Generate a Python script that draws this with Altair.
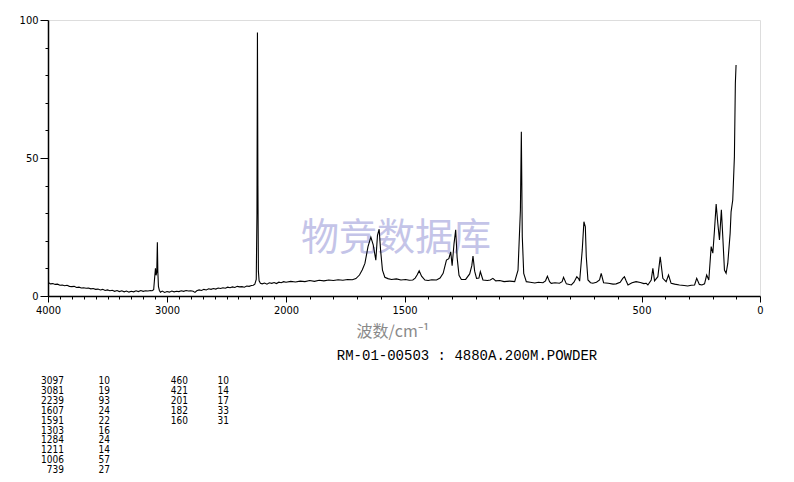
import altair as alt
import pandas as pd

# ---- spectrum (wavenumber cm-1, relative intensity) ----
wavenumber = [
    4000, 3980, 3960, 3940, 3920, 3900, 3880, 3860, 3840, 3820, 3800, 3780, 3760, 3740, 3720, 3700,
    3680, 3660, 3640, 3620, 3600, 3580, 3560, 3540, 3520, 3500, 3480, 3460, 3440, 3420, 3400, 3380,
    3360, 3340, 3320, 3300, 3280, 3260, 3240, 3220, 3200, 3180, 3160, 3140, 3125, 3112, 3104, 3097,
    3092, 3086, 3081, 3077, 3072, 3064, 3055, 3040, 3020, 3000, 2980, 2960, 2940, 2920, 2900, 2880,
    2860, 2840, 2820, 2800, 2780, 2765, 2750, 2730, 2710, 2690, 2670, 2650, 2630, 2610, 2590, 2570,
    2550, 2530, 2510, 2490, 2470, 2450, 2430, 2410, 2390, 2370, 2350, 2330, 2310, 2290, 2275, 2262,
    2250, 2244, 2240, 2236, 2232, 2226, 2215, 2200, 2180, 2160, 2140, 2120, 2100, 2080, 2060, 2040,
    2020, 2000, 1980, 1960, 1940, 1920, 1900, 1880, 1860, 1840, 1820, 1800, 1780, 1760, 1740, 1720,
    1705, 1690, 1678, 1667, 1654, 1642, 1632, 1621, 1614, 1607, 1601, 1593, 1583, 1570, 1555, 1534,
    1515, 1495, 1480, 1465, 1455, 1447, 1438, 1428, 1414, 1400, 1385, 1365, 1350, 1337, 1323, 1313,
    1305, 1299, 1291, 1284, 1278, 1270, 1260, 1242, 1225, 1216, 1211, 1204, 1196, 1186, 1180, 1169,
    1150, 1138, 1127, 1115, 1098, 1080, 1056, 1035, 1021, 1011, 1007, 1003, 997, 986, 970, 950,
    935, 916, 905, 897, 888, 881, 865, 846, 835, 829, 817, 796, 785, 773, 765, 761,
    750, 743, 737, 733, 726, 715, 705, 690, 677, 670, 660, 640, 620, 607, 590, 579,
    572, 565, 557, 540, 523, 505, 490, 480, 473, 459, 452, 445, 431, 421, 410, 396,
    386, 375, 360, 340, 320, 305, 290, 276, 267, 256, 245, 234, 225, 216, 206, 199,
    192, 185, 178, 171, 163, 157, 150, 143, 136, 126, 122, 115, 108, 104, 101,
]
intensity = [
    5.0, 4.4, 4.5, 4.2, 4.3, 3.9, 4.0, 3.7, 3.9, 3.5, 3.4, 3.5, 3.1, 3.2, 2.9, 3.0,
    2.8, 2.9, 2.6, 2.7, 2.4, 2.5, 2.2, 2.4, 2.0, 2.2, 1.9, 2.1, 1.7, 2.0, 1.6, 1.9,
    1.5, 1.8, 1.4, 1.7, 1.5, 1.9, 1.6, 2.0, 1.7, 1.9, 1.8, 2.0, 1.9, 2.3, 6.5, 10.0,
    7.5, 8.5, 19.5, 9.0, 3.5, 2.0, 1.4, 1.8, 1.3, 1.6, 1.4, 1.8, 1.5, 1.7, 1.6, 1.9,
    1.7, 2.0, 1.8, 1.9, 1.7, 1.3, 1.9, 2.2, 2.0, 2.4, 2.2, 2.6, 2.4, 2.7, 2.5, 2.9,
    2.7, 3.0, 2.8, 3.2, 3.0, 3.3, 3.1, 3.5, 3.3, 3.4, 3.2, 3.6, 3.5, 3.8, 3.9, 4.3,
    6.0, 30.0, 95.5, 40.0, 9.0, 5.5, 4.6, 4.4, 4.7, 4.3, 4.8, 4.6, 4.9, 4.5, 5.0, 4.8,
    5.2, 5.0, 5.3, 5.1, 5.4, 5.2, 5.6, 5.3, 5.7, 5.5, 5.8, 5.6, 5.9, 5.7, 6.0, 5.9,
    6.3, 7.6, 9.5, 11.8, 17.9, 21.3, 18.5, 13.0, 22.0, 24.2, 16.7, 9.4, 6.8, 6.3, 6.0, 6.2,
    5.8, 6.0, 5.7, 5.8, 6.5, 7.6, 9.1, 7.2, 5.8, 5.6, 5.9, 5.8, 6.5, 8.2, 13.0, 13.5,
    16.0, 11.0, 19.0, 24.0, 14.0, 7.5, 6.0, 6.0, 8.0, 11.0, 14.5, 9.0, 6.4, 6.5, 8.8, 5.8,
    5.6, 5.8, 6.4, 5.5, 5.6, 5.2, 5.4, 5.2, 9.4, 31.0, 59.5, 21.5, 8.2, 5.2, 5.0, 4.7,
    5.0, 4.8, 5.5, 7.2, 5.2, 4.6, 4.8, 4.6, 5.2, 6.8, 4.4, 4.0, 5.0, 7.0, 6.2, 5.4,
    16.7, 26.9, 25.1, 14.2, 5.8, 4.8, 4.6, 5.0, 5.8, 8.2, 4.8, 4.6, 4.3, 4.4, 5.0, 6.4,
    7.0, 5.5, 4.0, 4.8, 5.2, 4.9, 4.5, 4.6, 4.0, 5.8, 10.0, 5.5, 7.0, 14.2, 6.4, 5.2,
    7.6, 4.6, 4.3, 4.0, 3.8, 3.6, 3.9, 4.0, 6.4, 4.2, 4.0, 4.4, 7.6, 5.8, 17.9, 15.5,
    23.9, 33.3, 26.3, 20.3, 31.2, 21.5, 9.4, 8.2, 11.8, 22.7, 30.5, 34.8, 50.5, 77.0, 83.7,
]

# ---- axes ----
x_tick_values = list(range(4000, -1, -100))
x_label_values = [4000, 3000, 2000, 1500, 500, 0]
y_tick_values = list(range(0, 101, 10))
y_label_values = [0, 50, 100]

# ---- peak table ----
peak_wn_1 = ["3097", "3081", "2239", "1607", "1591", "1303", "1284", "1211", "1006", "739"]
peak_int_1 = ["10", "19", "93", "24", "22", "16", "24", "14", "57", "27"]
peak_wn_2 = ["460", "421", "201", "182", "160"]
peak_int_2 = ["10", "14", "17", "33", "31"]

title_text = "RM-01-00503 : 4880A.200M.POWDER"
x_title_text = "波数/cm⁻¹"
watermark_text = "物竞数据库"

W, H = 712, 276
num_font = "Liberation Sans Narrow, DejaVu Sans Condensed, sans-serif"

df = pd.DataFrame({"wn": wavenumber, "inten": intensity})

x_labels_js = "[" + ",".join(str(v) for v in x_label_values) + "]"
y_labels_js = "[" + ",".join(str(v) for v in y_label_values) + "]"

spectrum = alt.Chart(df).mark_line(color="black", strokeWidth=1.1, clip=True).encode(
    x=alt.X(
        "wn:Q",
        scale=alt.Scale(domain=[4000, 2000, 0], range=[0, 238, W], nice=False, zero=False),
        axis=alt.Axis(
            title=None,
            values=x_tick_values,
            labelExpr=f"indexof({x_labels_js}, datum.value) >= 0 ? '' + datum.value : ''",
            tickSize={"condition": {"test": f"indexof({x_labels_js}, datum.value) >= 0", "value": 6}, "value": 3},
            tickColor="black",
            domainColor="black",
            domainWidth=1.5,
            labelColor="black",
            labelFont=num_font,
            labelFontSize=11,
            labelPadding=2,
            labelFlush=False,
            labelOverlap=False,
            grid=False,
        ),
    ),
    y=alt.Y(
        "inten:Q",
        scale=alt.Scale(domain=[0, 100], nice=False, zero=True),
        axis=alt.Axis(
            title=None,
            values=y_tick_values,
            labelExpr=f"indexof({y_labels_js}, datum.value) >= 0 ? '' + datum.value : ''",
            tickSize={"condition": {"test": f"indexof({y_labels_js}, datum.value) >= 0", "value": 8}, "value": 3},
            tickColor="black",
            domainColor="black",
            domainWidth=1.5,
            labelColor="black",
            labelFont=num_font,
            labelFontSize=11,
            labelPadding=2,
            labelFlush=False,
            labelOverlap=False,
            grid=False,
        ),
    ),
)

watermark = alt.Chart(pd.DataFrame({"t": [watermark_text]})).mark_text(
    font="Noto Sans CJK SC", fontSize=38, color="#c4c4e8", align="center", baseline="middle"
).encode(x=alt.value(348), y=alt.value(219), text="t:N")

x_title = alt.Chart(pd.DataFrame({"t": [x_title_text]})).mark_text(
    font="Noto Sans CJK SC", fontSize=16, color="#8a8a8a", align="center", baseline="middle"
).encode(x=alt.value(345), y=alt.value(312), text="t:N")

main_title = alt.Chart(pd.DataFrame({"t": [title_text]})).mark_text(
    font="Liberation Mono", fontSize=14, color="black", align="center", baseline="middle"
).encode(x=alt.value(419), y=alt.value(336), text="t:N")


def table_col(values, right_x):
    d = pd.DataFrame({"t": values, "row": list(range(len(values)))})
    return alt.Chart(d).mark_text(
        font=num_font, fontSize=10, color="black", align="right", baseline="middle"
    ).transform_calculate(ypix="361 + datum.row * 9.9").encode(
        x=alt.value(right_x),
        y=alt.Y("ypix:Q", scale=None, axis=None),
        text="t:N",
    )


table = [
    table_col(peak_wn_1, 16),
    table_col(peak_int_1, 62),
    table_col(peak_wn_2, 140),
    table_col(peak_int_2, 181),
]

chart = alt.layer(watermark, spectrum, x_title, main_title, *table).resolve_scale(
    y="independent"
).properties(
    width=W,
    height=H,
    autosize=alt.AutoSizeParams(type="none"),
    padding={"left": 40, "top": 12, "right": 26, "bottom": 180},
).configure_view(stroke="black", strokeWidth=1.5).configure(background="white")

chart.save("out.html", embed_options={"renderer": "svg", "actions": False})
